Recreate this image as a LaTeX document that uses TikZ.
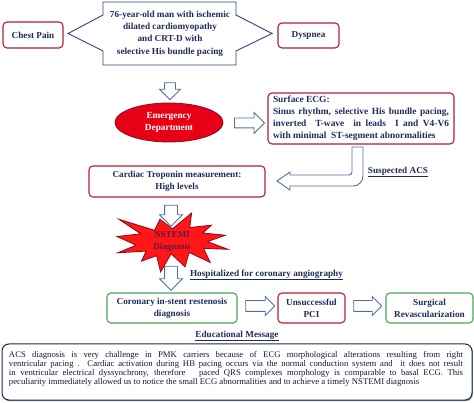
\documentclass[tikz,border=0pt]{standalone}
\usepackage{fontspec}
\setmainfont{Liberation Serif}
\usetikzlibrary{shapes.geometric,shapes.arrows,shadows}
\definecolor{navy}{RGB}{31,42,90}
\definecolor{boxred}{RGB}{178,30,50}
\definecolor{boxgreen}{RGB}{70,168,90}
\definecolor{arrowblue}{RGB}{84,110,160}
\definecolor{calloutblue}{RGB}{47,68,125}
\definecolor{emred}{RGB}{232,0,22}
\definecolor{darkred}{RGB}{140,10,25}
\definecolor{starred}{RGB}{255,22,22}
\definecolor{startext}{RGB}{100,20,70}

\begin{document}
\begin{tikzpicture}
    [x=1pt, y=-1pt,
    font=\fontsize{9.2}{11.8}\selectfont\bfseries,
    text=navy,
    box/.style={draw, rounded corners=4pt, line width=1.1pt, align=center, inner sep=1pt},
    redbox/.style={box, draw=boxred},
    greenbox/.style={box, draw=boxgreen},
    blockarrow/.style={single arrow, draw=arrowblue, fill=white, line width=0.9pt, inner sep=5pt, single arrow head extend=5pt, minimum height=#1},
    rarrow/.style={blockarrow=#1},
    darrow/.style={blockarrow=#1, shape border rotate=270},
    underlabel/.style={inner sep=0pt}]
    \useasboundingbox (0,0) rectangle (474,403);

        %% Presentation
    \draw[calloutblue, line width=0.9pt, fill=white] (103,2) -- (236,2) -- (236,15) -- (272,33.5) -- (236,51) -- (236,65)
        -- (103,65) -- (103,51) -- (68,33.5) -- (103,15) -- cycle;
    \node[align=center, font=\fontsize{9.2}{12.3}\selectfont\bfseries] (patient) at (170,33.5)
        {76-year-old man with ischemic\\ dilated cardiomyopathy\\ and CRT-D with\\ selective His bundle pacing};
    \node[redbox, minimum width=60pt, minimum height=26pt] (chest) at (33,35) {Chest Pain};
    \node[redbox, minimum width=61pt, minimum height=25pt] (dyspnea) at (308.5,35.5) {Dyspnea};

        %% Emergency department and ECG
    \node[darrow=17pt] (a1) at (170,88.5) {};
    \node[ellipse, draw=darkred, fill=emred, text=white, line width=0.8pt, minimum width=108pt, minimum height=39pt,
        inner sep=0pt, align=center, font=\fontsize{9.3}{12}\selectfont\bfseries] (emerg) at (169,122.5) {Emergency\\ Department};
    \node[rarrow=30pt, inner sep=4.5pt, single arrow head extend=5.5pt] (a2) at (247,123) {};
    \node[redbox, minimum width=186pt, minimum height=51pt, text width=176pt, align=justify,
        font=\fontsize{9.4}{11.9}\selectfont\bfseries] (ecg) at (361,118.5)
        {Surface ECG:\\ Sinus rhythm, selective His bundle pacing, \linebreak inverted~ T-wave~ in leads~ I and V4-V6 \linebreak with minimal~ ST-segment abnormalities};

        %% Suspected ACS
    \draw[arrowblue, line width=0.9pt, fill=white] (352,147) -- (363,147) -- (363,176) arc (0:90:10) -- (290,186) -- (290,190)
        -- (277,181) -- (290,172) -- (290,175) -- (349,175) arc (90:0:3) -- cycle;
    \node[underlabel] (acs) at (398,172) {\underline{Suspected ACS}};
    \node[redbox, minimum width=176pt, minimum height=31pt] (tropo) at (177,181.5) {Cardiac Troponin measurement:\\ High levels};

        %% NSTEMI
    \begin{scope}[shift={(117,213)}, xscale=1.11, yscale=0.59]
    \draw[darkred, line width=0.8pt, fill=starred] (50,26.85) -- (67.23,0) -- (65.53,24.65) -- (85.09,20.63) -- (77.32,33.87)
        -- (97.67,37.67) -- (81.51,48.50) -- (100,61.53) -- (77.95,59.92) -- (84.00,83.77) -- (64.91,66.93) -- (61.33,91.38)
        -- (48.76,69.14) -- (39.28,100) -- (35.72,72.35) -- (22.05,81.56) -- (26.24,64.52) -- (0.63,67.53) -- (17.23,54.51)
        -- (0,39.88) -- (21.42,35.26) -- (1.71,10.63) -- (33.85,29.26) -- (38.67,10.63) -- cycle;
    \end{scope}
    \node[align=center, text=startext, font=\fontsize{9}{12}\selectfont\bfseries] (nstemi) at (172,242) {NSTEMI\\ Diagnosis};
    \node[darrow=21pt, inner sep=6pt] (a3) at (171,212.5) {};
    \node[darrow=24pt, inner sep=6pt] (a4) at (171,275) {};
    \node[underlabel] (hosp) at (266.5,275) {\underline{Hospitalized for coronary angiography}};

        %% Treatment
    \node[greenbox, minimum width=130pt, minimum height=30pt] (coron) at (172,308) {Coronary in-stent restenosis\\ diagnosis};
    \node[redbox, minimum width=67pt, minimum height=30pt] (pci) at (311.5,308) {Unsuccessful\\ PCI};
    \node[greenbox, minimum width=87pt, minimum height=30pt] (surg) at (429.5,308) {Surgical\\ Revascularization};
    \node[rarrow=29pt, single arrow head extend=4pt] (a5) at (257.5,306) {};
    \node[rarrow=28pt, single arrow head extend=4pt] (a6) at (365,306) {};

        %% Educational message
    \node[underlabel] (edu) at (237,336) {\underline{Educational Message}};
    \node[draw=navy, line width=1pt, rounded corners=7pt, fill=white, minimum width=470pt, minimum height=56pt,
        drop shadow={shadow xshift=0.8pt, shadow yshift=-1.2pt, fill=navy!70, opacity=0.8}] (msgbox) at (237,372) {};
    \node[text width=454pt, align=justify, inner sep=0pt, text=navy!60!black,
        font=\fontsize{8.7}{9.2}\selectfont] (msg) at (236,369)
        {ACS diagnosis is very challenge in PMK carriers because of ECG morphological alterations resulting from right \linebreak
        ventricular pacing . Cardiac activation during HB pacing occurs via the normal conduction system and~ it does not result \linebreak
        in ventricular electrical dyssynchrony, therefore~~ paced QRS complexes morphology is comparable to basal ECG. This \linebreak
        peculiarity immediately allowed us to notice the small ECG abnormalities and to achieve a timely NSTEMI diagnosis};
\end{tikzpicture}
\end{document}
